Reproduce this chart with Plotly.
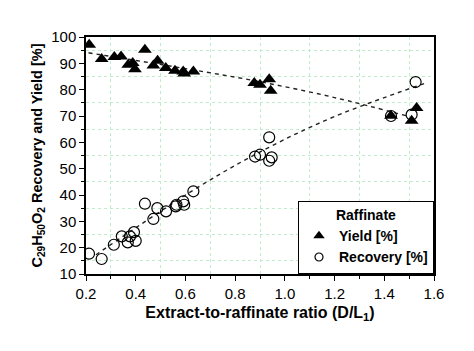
import plotly.graph_objects as go

# Yield [%] (filled triangles)
yield_x = [0.213, 0.263, 0.314, 0.341, 0.370, 0.388, 0.397, 0.437, 0.471, 0.488, 0.521,
           0.558, 0.591, 0.595, 0.632, 0.877, 0.900, 0.937, 0.943, 1.427, 1.510, 1.530]
yield_y = [97.1, 91.6, 92.4, 92.6, 89.5, 90.1, 87.8, 95.2, 89.2, 91.0, 88.2,
           87.2, 86.9, 86.1, 86.9, 82.5, 81.9, 84.0, 79.6, 70.1, 68.2, 73.0]

# Recovery [%] (open circles)
rec_x = [0.212, 0.263, 0.312, 0.344, 0.368, 0.377, 0.393, 0.400, 0.437, 0.471, 0.487,
         0.522, 0.561, 0.564, 0.591, 0.595, 0.632, 0.880, 0.900, 0.937, 0.937, 0.947,
         1.427, 1.510, 1.526]
rec_y = [17.7, 15.7, 21.1, 24.3, 22.0, 24.3, 25.9, 22.6, 36.7, 30.9, 35.0,
         33.8, 35.7, 36.3, 37.6, 36.3, 41.4, 54.6, 55.3, 61.9, 53.0, 54.3,
         70.0, 70.5, 82.9]

# Dashed trend lines
yfit_x = [0.21, 0.60, 0.90, 1.20, 1.50]
yfit_y = [94.0, 88.0, 83.0, 77.0, 69.8]
rfit_x = [0.24, 0.66, 0.93, 1.20, 1.56]
rfit_y = [17.3, 43.5, 57.8, 69.8, 82.3]

FONT = "Liberation Sans, Arial, sans-serif"

fig = go.Figure()
fit_line = dict(color="#222222", width=1.4, dash="4px,4px", shape="spline")
fig.add_trace(go.Scatter(x=yfit_x, y=yfit_y, mode="lines", line=fit_line, showlegend=False, hoverinfo="skip"))
fig.add_trace(go.Scatter(x=rfit_x, y=rfit_y, mode="lines", line=fit_line, showlegend=False, hoverinfo="skip"))
fig.add_trace(go.Scatter(x=yield_x, y=yield_y, mode="markers", showlegend=False,
                         marker=dict(symbol="triangle-up", size=12, color="black", line=dict(width=0))))
fig.add_trace(go.Scatter(x=rec_x, y=rec_y, mode="markers", showlegend=False,
                         marker=dict(symbol="circle-open", size=11, color="black", line=dict(width=1.2))))
# legend entries with smaller symbols
fig.add_trace(go.Scatter(x=[None], y=[None], mode="markers", name="<b>Yield [%]</b>",
                         marker=dict(symbol="triangle-up", size=10, color="black", line=dict(width=0))))
fig.add_trace(go.Scatter(x=[None], y=[None], mode="markers", name="<b>Recovery [%]</b>",
                         marker=dict(symbol="circle-open", size=8, color="black", line=dict(width=1.2))))

axis_common = dict(
    showline=True, linecolor="black", linewidth=1.5, mirror=True,
    ticks="outside", ticklen=5, tickwidth=1, tickcolor="black",
    showgrid=False, zeroline=False,
    tickfont=dict(family=FONT, size=15, color="black"),
)

fig.update_xaxes(
    range=[0.2, 1.6], tick0=0.2, dtick=0.2, tickformat=".1f",
    minor=dict(dtick=0.1, ticks="outside", ticklen=3, tickcolor="black",
               showgrid=True, gridcolor="#bfeccb", griddash="dot", gridwidth=1),
    title=dict(text="<b>Extract-to-raffinate ratio (D/L<sub>1</sub>)</b>",
               font=dict(family=FONT, size=16, color="black"), standoff=6),
    **axis_common)
fig.update_yaxes(
    range=[10, 100], tick0=10, dtick=10,
    minor=dict(dtick=5, ticks="outside", ticklen=3, tickcolor="black",
               showgrid=True, gridcolor="#bfeccb", griddash="dot", gridwidth=1),
    title=dict(text="<b>C<sub>29</sub>H<sub>50</sub>O<sub>2</sub> Recovery and Yield [%]</b>",
               font=dict(family=FONT, size=14.5, color="black"), standoff=5),
    **axis_common)

fig.update_layout(
    width=474, height=351,
    margin=dict(l=86, r=40, t=37, b=77),
    paper_bgcolor="white", plot_bgcolor="white",
    legend=dict(
        title=dict(text="<b>Raffinate</b>", side="top center", font=dict(family=FONT, size=14, color="black")),
        font=dict(family=FONT, size=14, color="black"),
        x=1, y=0, xanchor="right", yanchor="bottom",
        bgcolor="white", bordercolor="black", borderwidth=1,
        tracegroupgap=0,
    ),
)

fig.write_html("out.html")
